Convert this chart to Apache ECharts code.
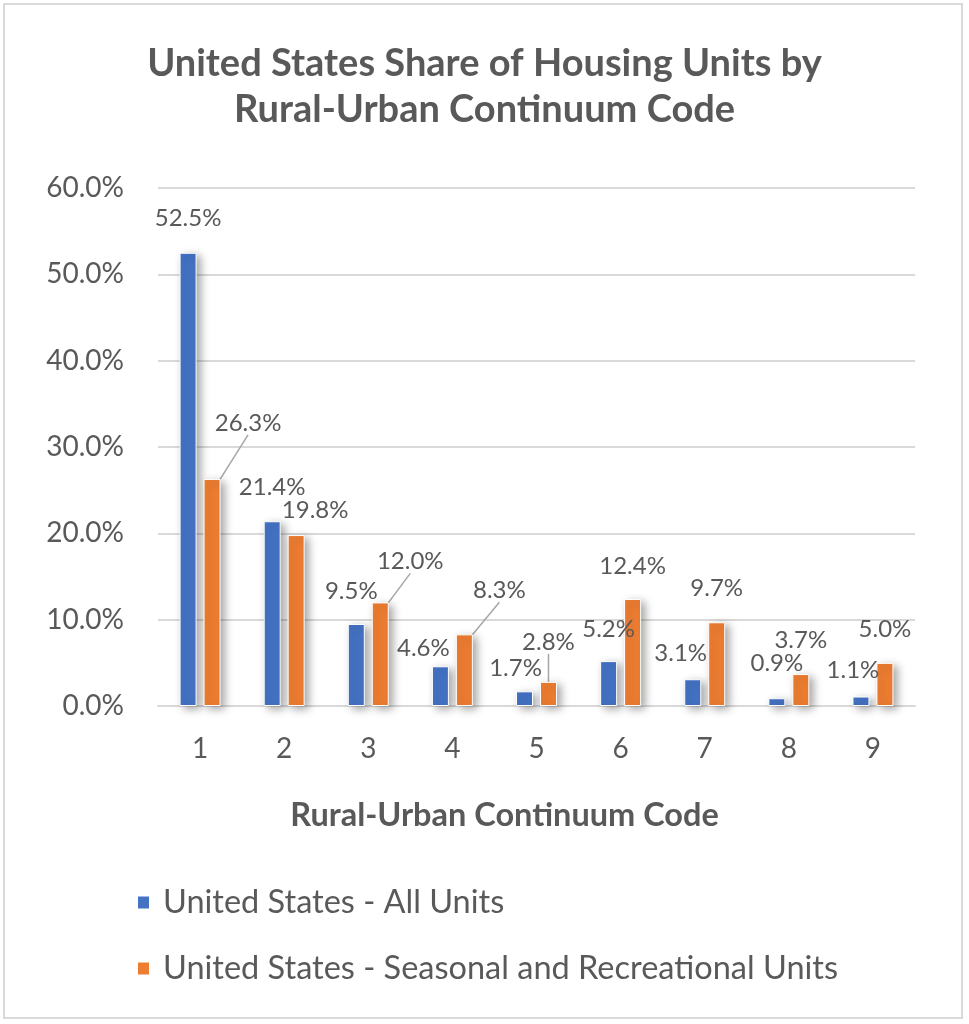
<!DOCTYPE html>
<html>
<head>
<meta charset="utf-8">
<script src="https://cdn.jsdelivr.net/npm/echarts@6/dist/echarts.min.js"></script>
<style>
html,body{margin:0;padding:0;background:#fff;}
#chart{width:969px;height:1024px;}
</style>
</head>
<body>
<div id="chart"></div>
<script>
// ---- data ----
const categories = ['1','2','3','4','5','6','7','8','9'];
const allUnits = [52.5, 21.4, 9.5, 4.6, 1.7, 5.2, 3.1, 0.9, 1.1];
const seasonalUnits = [26.3, 19.8, 12.0, 8.3, 2.8, 12.4, 9.7, 3.7, 5.0];
const seriesNames = ['United States - All Units', 'United States - Seasonal and Recreational Units'];
const yTicks = [0, 10, 20, 30, 40, 50, 60];

// ---- label nudges (styling only) ----
const blueNudge = [[0,-17],[0,-17],[-5,-16],[-17,-1],[-9,-6],[0,-15],[-12,-9],[0,-18],[-8,-9]];
const orangeNudge = [[36,-39],[19,-8],[30,-24],[35,-27],[0,-23],[0,-16],[0,-17],[0,-17],[0,-17]];
const orangeLeader = [true,false,true,true,true,false,false,false,false];

const textColor = '#595959';
const font = 'Lato, "Open Sans", sans-serif';

const chart = echarts.init(document.getElementById('chart'));

function barStyle(color){
  return {
    color: color,
    borderColor: '#ffffff',
    borderWidth: 1,
    shadowColor: 'rgba(0,0,0,0.35)',
    shadowBlur: 8,
    shadowOffsetX: 4,
    shadowOffsetY: 3
  };
}

const labelBase = {
  show: true,
  position: 'top',
  distance: 5,
  color: textColor,
  fontFamily: font,
  fontSize: 24,
  formatter: p => p.value.toFixed(1) + '%'
};

chart.setOption({
  backgroundColor: '#ffffff',
  animation: false,
  graphic: [{
    type: 'rect',
    shape: {x: 4, y: 4, width: 958, height: 1014},
    style: {fill: 'none', stroke: '#d9d9d9', lineWidth: 2},
    silent: true
  }],
  title: {
    text: 'United States Share of Housing Units by\nRural-Urban Continuum Code',
    left: 'center',
    top: 36,
    textStyle: {
      color: textColor,
      fontFamily: font,
      fontWeight: 'bold',
      fontSize: 38,
      lineHeight: 46
    }
  },
  legend: {
    orient: 'vertical',
    left: 131,
    top: 881,
    itemWidth: 13,
    itemHeight: 14,
    itemGap: 33,
    icon: 'rect',
    textStyle: {color: textColor, fontFamily: font, fontSize: 32.5, padding: [0,0,0,8]},
    data: seriesNames
  },
  grid: {left: 158, right: 54, top: 188, bottom: 318},
  xAxis: {
    type: 'category',
    data: categories,
    axisTick: {show: false},
    axisLine: {show: true, lineStyle: {color: '#d9d9d9', width: 2}},
    axisLabel: {color: textColor, fontFamily: font, fontSize: 28, margin: 29},
    name: 'Rural-Urban Continuum Code',
    nameLocation: 'middle',
    nameGap: 93,
    nameTextStyle: {color: textColor, fontFamily: font, fontWeight: 'bold', fontSize: 32.5, padding: [0, 64, 0, 0]}
  },
  yAxis: {
    type: 'value',
    min: yTicks[0],
    max: yTicks[yTicks.length-1],
    interval: 10,
    axisLine: {show: false},
    axisTick: {show: false},
    splitLine: {lineStyle: {color: '#d9d9d9', width: 2}},
    axisLabel: {color: textColor, fontFamily: font, fontSize: 28, margin: 34,
      formatter: v => v.toFixed(1) + '%'}
  },
  series: [
    {
      name: seriesNames[0],
      type: 'bar',
      barWidth: 17,
      barGap: '41%',
      itemStyle: barStyle('#4472C4'),
      label: labelBase,
      labelLayout: p => ({dx: blueNudge[p.dataIndex][0], dy: blueNudge[p.dataIndex][1]}),
      data: allUnits.map(v => ({value: v}))
    },
    {
      name: seriesNames[1],
      type: 'bar',
      barWidth: 17,
      barGap: '41%',
      itemStyle: barStyle('#ED7D31'),
      label: labelBase,
      labelLine: {show: false, lineStyle: {color: '#a6a6a6', width: 1.5}},
      labelLayout: p => ({dx: orangeNudge[p.dataIndex][0], dy: orangeNudge[p.dataIndex][1]}),
      data: seasonalUnits.map((v, i) => ({value: v, labelLine: {show: orangeLeader[i], lineStyle: {color: '#a6a6a6', width: 1.5}}}))
    }
  ]
});
</script>
</body>
</html>
